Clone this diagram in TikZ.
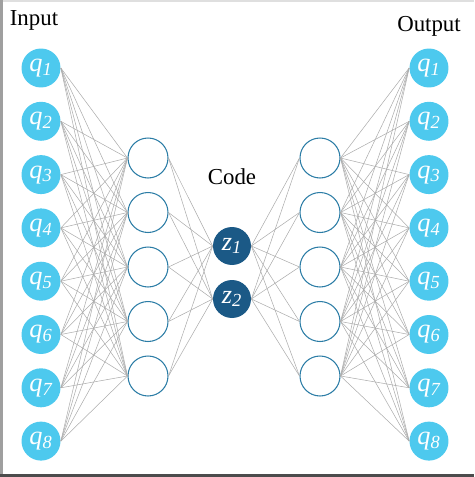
\documentclass[tikz,border=0pt]{standalone}
\usepackage{fontspec}
\setmainfont{Liberation Serif}
\usetikzlibrary{calc}
\definecolor{inblue}{HTML}{4DC9EE}
\definecolor{ringblue}{HTML}{2C7DA6}
\definecolor{codeblue}{HTML}{1B5986}
\tikzset{
	qnode/.style={circle,fill=inblue,minimum size=0.78cm,inner sep=0pt,text=white,font=\fontsize{15}{17}\selectfont\itshape},
	hnode/.style={circle,draw=ringblue,line width=0.6pt,fill=white,minimum size=0.8cm,inner sep=0pt},
	znode/.style={circle,fill=codeblue,minimum size=0.76cm,inner sep=0pt,text=white,font=\fontsize{15}{17}\selectfont\itshape},
	link/.style={gray!65,line width=0.3pt},
	title/.style={font=\fontsize{13}{15}\selectfont}
}

\begin{document}
\begin{tikzpicture}[x=0.02cm,y=-0.02cm]
		\useasboundingbox (0,0) rectangle (474,477);
		\fill[gray!25] (0,0) rectangle (474,2);% frame of the scan
		\fill[gray!75] (0,0) rectangle (3,477);
		\fill[gray!60!black] (0,474) rectangle (474,477);

		\foreach \i in {1,...,8}{% input and output layers
			\node[qnode] (in\i)  at (41,{68+53.3*(\i-1)}) {q\textsubscript{\i}};
			\node[qnode] (out\i) at (429,{68+53.3*(\i-1)}) {q\textsubscript{\i}};
		}
		\foreach \j in {1,...,5}{% hidden layers
			\node[hnode] (hl\j) at (148,{158+54.5*(\j-1)}) {};
			\node[hnode] (hr\j) at (320,{158+54.5*(\j-1)}) {};
		}
		\node[znode] (z1) at (232,246) {z\textsubscript{1}};% the code
		\node[znode] (z2) at (232,299) {z\textsubscript{2}};

		\node[title] (input)  at (34,20)  {Input};
		\node[title] (output) at (429,26) {Output};
		\node[title] (code)   at (232,177) {Code};

		\foreach \i in {1,...,8}{%
		  \foreach \j in {1,...,5}{%
			\draw[link] (in\i.east) -- (hl\j.west);
			\draw[link] (hr\j.east) -- (out\i.west);
		  }
		}
		\foreach \j in {1,...,5}{%
		  \foreach \k in {1,2}{%
			\draw[link] (hl\j.east) -- (z\k.west);
			\draw[link] (z\k.east) -- (hr\j.west);
		  }
		}
\end{tikzpicture}
\end{document}
